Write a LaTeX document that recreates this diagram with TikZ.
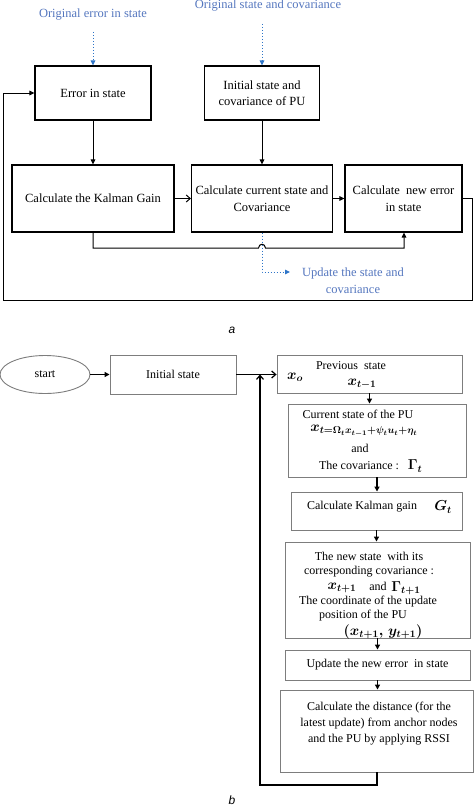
\documentclass[tikz,border=0pt]{standalone}
\usepackage{fontspec}
\setmainfont{Liberation Serif}
\setsansfont{Liberation Sans}
\usepackage{amsmath,bm}
\usetikzlibrary{arrows.meta,shapes.geometric}
\definecolor{lblc}{RGB}{84,118,190}
\definecolor{dotc}{RGB}{46,117,200}
\definecolor{gbord}{RGB}{125,125,125}
\begin{document}
\begin{tikzpicture}[x=1pt,y=-1pt,
  abox/.style={draw=black, line width=1.1pt, inner sep=2pt, align=center, font=\fontsize{12.5}{16.5}\selectfont},
  bbox/.style={draw=gbord, line width=0.9pt, inner sep=2pt, align=center, font=\fontsize{12}{15}\selectfont},
  btext/.style={inner sep=0pt, align=center, font=\fontsize{12}{15}\selectfont},
  bmath/.style={inner sep=0pt, font=\fontsize{14}{15}\selectfont},
  lbl/.style={text=lblc, inner sep=0pt, align=center, font=\fontsize{12.5}{16.5}\selectfont},
  aarr/.style={line width=1pt, -{Triangle[length=5pt,width=4.5pt]}},
  oarr/.style={line width=1pt, -{Straight Barb[length=4pt,width=7pt]}},
  darr/.style={dotc, line width=1pt, dotted, -{Triangle[length=5pt,width=4.5pt]}},
  barr/.style={line width=1.5pt, -{Triangle[length=5pt,width=5pt]}},
  boarr/.style={line width=1.2pt, -{Straight Barb[length=4pt,width=7pt]}},
  figcap/.style={inner sep=0pt, font=\sffamily\itshape\fontsize{12}{14}\selectfont}
]
\useasboundingbox (0,0) rectangle (474,808);

% ---------------- part a ----------------
\node[lbl] (oerr) at (93,15) {Original error in state};
\node[lbl] (ostate) at (268,6) {Original state and covariance};
\coordinate (oerrend) at (93,32);
\coordinate (ostateend) at (262,24);

\node[abox, minimum width=116pt, minimum height=54pt] (err) at (93,93) {Error in state};
\node[abox, minimum width=115pt, minimum height=54pt] (init) at (262,93) {Initial state and\\covariance of PU};
\node[abox, minimum width=162pt, minimum height=67pt] (kal) at (93,198.5) {Calculate the Kalman Gain};
\node[abox, minimum width=141pt, minimum height=67pt] (cur) at (262,198.5) {Calculate current state and\\Covariance};
\node[abox, minimum width=117pt, minimum height=67pt] (newerr) at (403.5,198.5) {Calculate\ \ new error\\in state};
\node[lbl] (upd) at (353,280.5) {Update the state and\\covariance};
\coordinate (updend) at (290,272);

\draw[darr] (oerrend) -- (err.north);
\draw[darr] (ostateend) -- (init.north);
\draw[aarr] (err.south) -- (kal.north);
\draw[aarr] (init.south) -- (cur.north);
\draw[oarr] (kal.east) -- (cur.west);
\draw[aarr] (cur.east) -- (newerr.west);
\draw[aarr] (kal.south) -- (93,248) -- (258.5,248) .. controls (259,243) and (265,243) .. (265.5,248) -- (404,248) -- (newerr.south -| 404,0);
\draw[darr] (cur.south) -- (262,272) -- (updend);
\draw[aarr] (newerr.east) -- (472,198.5) -- (472,300) -- (3,300) -- (3,93) -- (err.west);

\node[figcap] (capa) at (232,330) {a};

% ---------------- part b ----------------
\node[draw=gbord, line width=0.9pt, ellipse, minimum width=90pt, minimum height=38pt, inner sep=0pt, font=\fontsize{12}{15}\selectfont] (start) at (45,374.5) {start};
\node[bbox, minimum width=126pt, minimum height=39pt] (init2) at (173,374.5) {Initial state};

\node[bbox, minimum width=185pt, minimum height=38pt] (prev) at (369.5,374) {};
\node[bmath] (prevx) at (295,377) {$\bm{x_o}$};
\node[btext] (prevt) at (351,366) {Previous\ \ state};
\node[bmath] (prevtt) at (362,384) {$\bm{x_{t-1}}$};

\node[bbox, minimum width=178pt, minimum height=73pt] (cur2) at (377,440.5) {};
\node[btext] (c1) at (358,414) {Current state of the PU};
\node[bmath] (c2) at (364,431) {$\bm{x}_{\bm{t=\Omega_t x_{t-1}+\psi_t u_t+\eta_t}}$};
\node[btext] (c3) at (360,448) {and};
\node[btext] (c4) at (359,465) {The covariance :};
\node[bmath] (c5) at (415,466) {$\bm{\Gamma_t}$};

\node[bbox, minimum width=171pt, minimum height=38pt] (kal2) at (376.5,511) {};
\node[btext] (k1) at (362,507) {Calculate Kalman gain};
\node[bmath] (k2) at (443,507) {$\bm{G_t}$};

\node[bbox, minimum width=185pt, minimum height=96pt] (new2) at (377.5,590) {};
\node[btext] (n1) at (369,556) {The new state\ \ with its};
\node[btext] (n2) at (369,572) {corresponding covariance :};
\node[bmath] (n3a) at (342,588) {$\bm{x_{t+1}}$};
\node[btext] (n3b) at (378,586) {and};
\node[bmath] (n3c) at (406,588) {$\bm{\Gamma_{t+1}}$};
\node[btext] (n4) at (368,602) {The coordinate of the update};
\node[btext] (n5) at (363,616) {position of the PU};
\node[bmath] (n6) at (383,632) {$\bm{(x_{t+1},\,y_{t+1})}$};

\node[bbox, minimum width=185pt, minimum height=30pt] (upd2) at (377.5,665) {Update the new error\ \ in state};

\node[bbox, minimum width=193pt, minimum height=82pt] (dist) at (376.5,731) {};
\node[btext, font=\fontsize{12}{16}\selectfont] (distt) at (379,724) {Calculate the distance (for the\\latest update) from anchor nodes\\and the PU by applying RSSI};

\coordinate (join) at (260,374.5);
\coordinate (loopa) at (377,785);
\coordinate (loopb) at (260,785);

\draw[barr] (start.east) -- (init2.west);
\draw[boarr] (init2.east) -- (prev.west |- init2.east);
\draw[barr] (prev.south) -- (prev.south |- cur2.north);
\draw[barr] (cur2.south) -- (cur2.south |- kal2.north);
\draw[barr] (kal2.south) -- (kal2.south |- new2.north);
\draw[barr] (new2.south) -- (new2.south |- upd2.north);
\draw[barr] (upd2.south) -- (upd2.south |- dist.north);
\draw[boarr] (dist.south -| loopa) -- (loopa) -- (loopb) -- (join);

\node[figcap] (capb) at (232,800) {b};
\end{tikzpicture}
\end{document}
